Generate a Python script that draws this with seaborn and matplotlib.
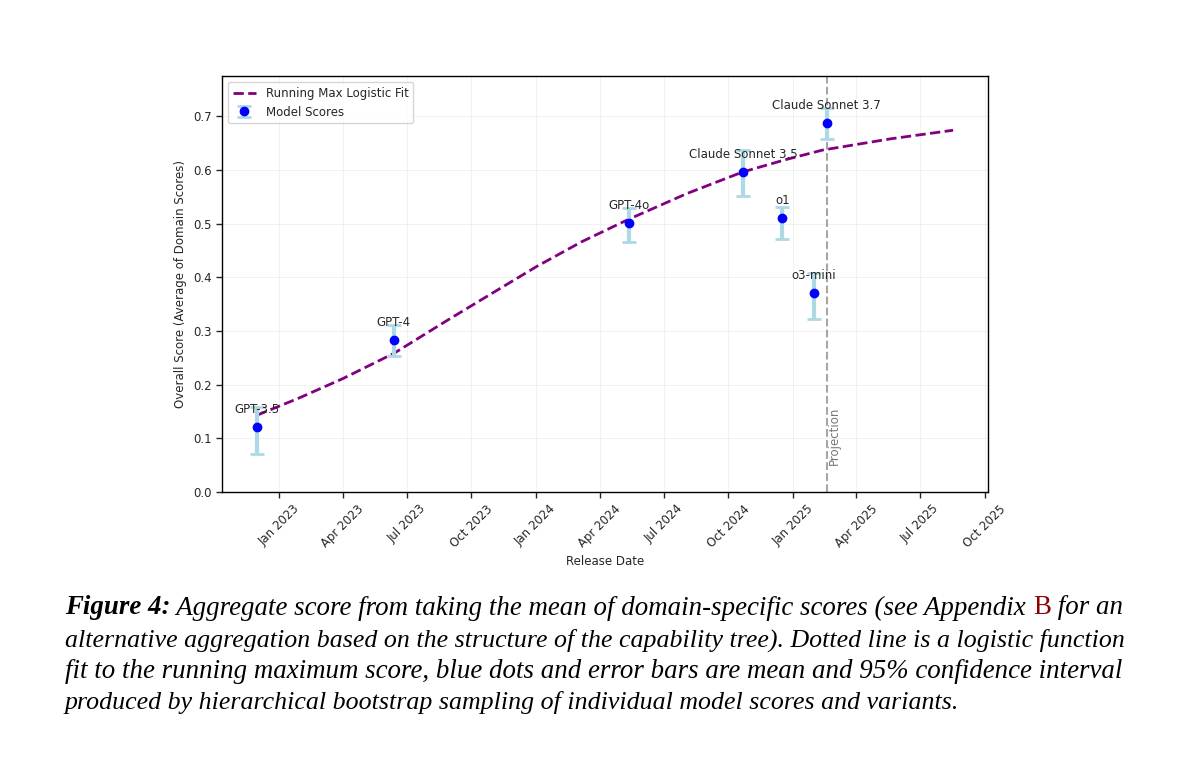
import numpy as np
import pandas as pd
import matplotlib
matplotlib.use("Agg")
import matplotlib.pyplot as plt
import matplotlib.dates as mdates
import seaborn as sns

# ---- data ----
models = ["GPT-3.5", "GPT-4", "GPT-4o", "Claude Sonnet 3.5", "o1", "o3-mini", "Claude Sonnet 3.7"]
release = ["2022-11-30", "2023-06-13", "2024-05-13", "2024-10-22", "2024-12-17", "2025-01-31", "2025-02-18"]
score = [0.121, 0.284, 0.502, 0.596, 0.510, 0.371, 0.688]
ci_low = [0.071, 0.253, 0.465, 0.551, 0.471, 0.323, 0.657]
ci_high = [0.159, 0.311, 0.529, 0.637, 0.531, 0.408, 0.716]

fit_dates = ["2022-11-30", "2023-01-29", "2023-04-01", "2023-06-14", "2023-08-27",
             "2023-10-28", "2024-01-02", "2024-03-06", "2024-05-12", "2024-08-03",
             "2024-10-21", "2024-12-21", "2025-02-12", "2025-05-20", "2025-08-17"]
fit_values = [0.143, 0.175, 0.211, 0.259, 0.319, 0.368, 0.420, 0.466, 0.508, 0.556,
              0.596, 0.619, 0.637, 0.658, 0.674]

projection_date = "2025-02-18"

df = pd.DataFrame({"model": models, "date": pd.to_datetime(release), "score": score,
                   "lo": ci_low, "hi": ci_high})
fit = pd.DataFrame({"date": pd.to_datetime(fit_dates), "value": fit_values})

sns.set_theme(style="ticks")
plt.rcParams["font.family"] = ["DejaVu Sans"]

fig = plt.figure(figsize=(11.88, 7.68), dpi=100)
ax = fig.add_axes([0.1869, 0.3594, 0.6447, 0.5416])

sns.lineplot(data=fit, x="date", y="value", ax=ax, color="purple", linestyle="--",
             linewidth=2, label="Running Max Logistic Fit")

yerr = np.array([df["score"] - df["lo"], df["hi"] - df["score"]])
ax.errorbar(df["date"], df["score"], yerr=yerr, fmt="o", color="blue", markersize=6,
            ecolor="lightblue", elinewidth=3, capsize=5, capthick=2, label="Model Scores",
            zorder=3)

for _, r in df.iterrows():
    ax.annotate(r["model"], (r["date"], r["score"]), xytext=(0, 10),
                textcoords="offset points", ha="center", fontsize=8.5)

pdate = pd.Timestamp(projection_date)
ax.axvline(pdate, color="gray", linestyle="--", alpha=0.7, linewidth=1.5)
ax.text(pdate + pd.Timedelta(days=2), 0.05, "Projection", rotation=90, color="dimgray",
        fontsize=8.5, ha="left", va="bottom", alpha=0.9)

ax.xaxis.set_major_locator(mdates.MonthLocator(bymonth=[1, 4, 7, 10]))
ax.xaxis.set_major_formatter(mdates.DateFormatter("%b %Y"))
plt.setp(ax.get_xticklabels(), rotation=45)
ax.tick_params(labelsize=8.5, length=4, width=1)
ax.set_ylim(0, 0.775)
ax.set_yticks(np.arange(0, 0.71, 0.1))
ax.set_xlabel("Release Date", fontsize=8.5)
ax.set_ylabel("Overall Score (Average of Domain Scores)", fontsize=8.5)
ax.grid(True, alpha=0.3, linewidth=0.6)
for s in ax.spines.values():
    s.set_color("black")
    s.set_linewidth(1)
ax.legend(loc="upper left", fontsize=8.5, frameon=True)

# ---- caption: each line sized to fill the text block width ----
serif = "Liberation Serif"
base_size = 18.6
caption_lines = [
    ([("Figure 4:", "bold", "black", "italic"),
      (" Aggregate score from taking the mean of domain-specific scores (see Appendix ", "normal", "black", "italic"),
      ("B", "normal", "#8b0000", "normal"),
      (" for an", "normal", "black", "italic")], True),
    ([("alternative aggregation based on the structure of the capability tree). Dotted line is a logistic function", "normal", "black", "italic")], True),
    ([("fit to the running maximum score, blue dots and error bars are mean and 95% confidence interval", "normal", "black", "italic")], True),
    ([("produced by hierarchical bootstrap sampling of individual model scores and variants.", "normal", "black", "italic")], False),
]
ys = [608, 640, 671, 703]
x0, x1 = 65, 1122
fig.canvas.draw()
renderer = fig.canvas.get_renderer()
for (parts, justify), ypx in zip(caption_lines, ys):
    texts = []
    for txt, wt, col, sty in parts:
        t = fig.text(0, 1 - ypx / 768, txt, fontsize=base_size, family=serif,
                     style=sty, weight=wt, color=col, va="center", ha="left")
        texts.append(t)
    size = base_size
    if justify:
        for _ in range(3):
            total = sum(t.get_window_extent(renderer).width for t in texts)
            size = size * (x1 - x0) / total
            for t in texts:
                t.set_fontsize(size)
    x = x0
    for t in texts:
        t.set_x(x / 1188)
        x += t.get_window_extent(renderer).width

fig.savefig("out.png", dpi=100)
